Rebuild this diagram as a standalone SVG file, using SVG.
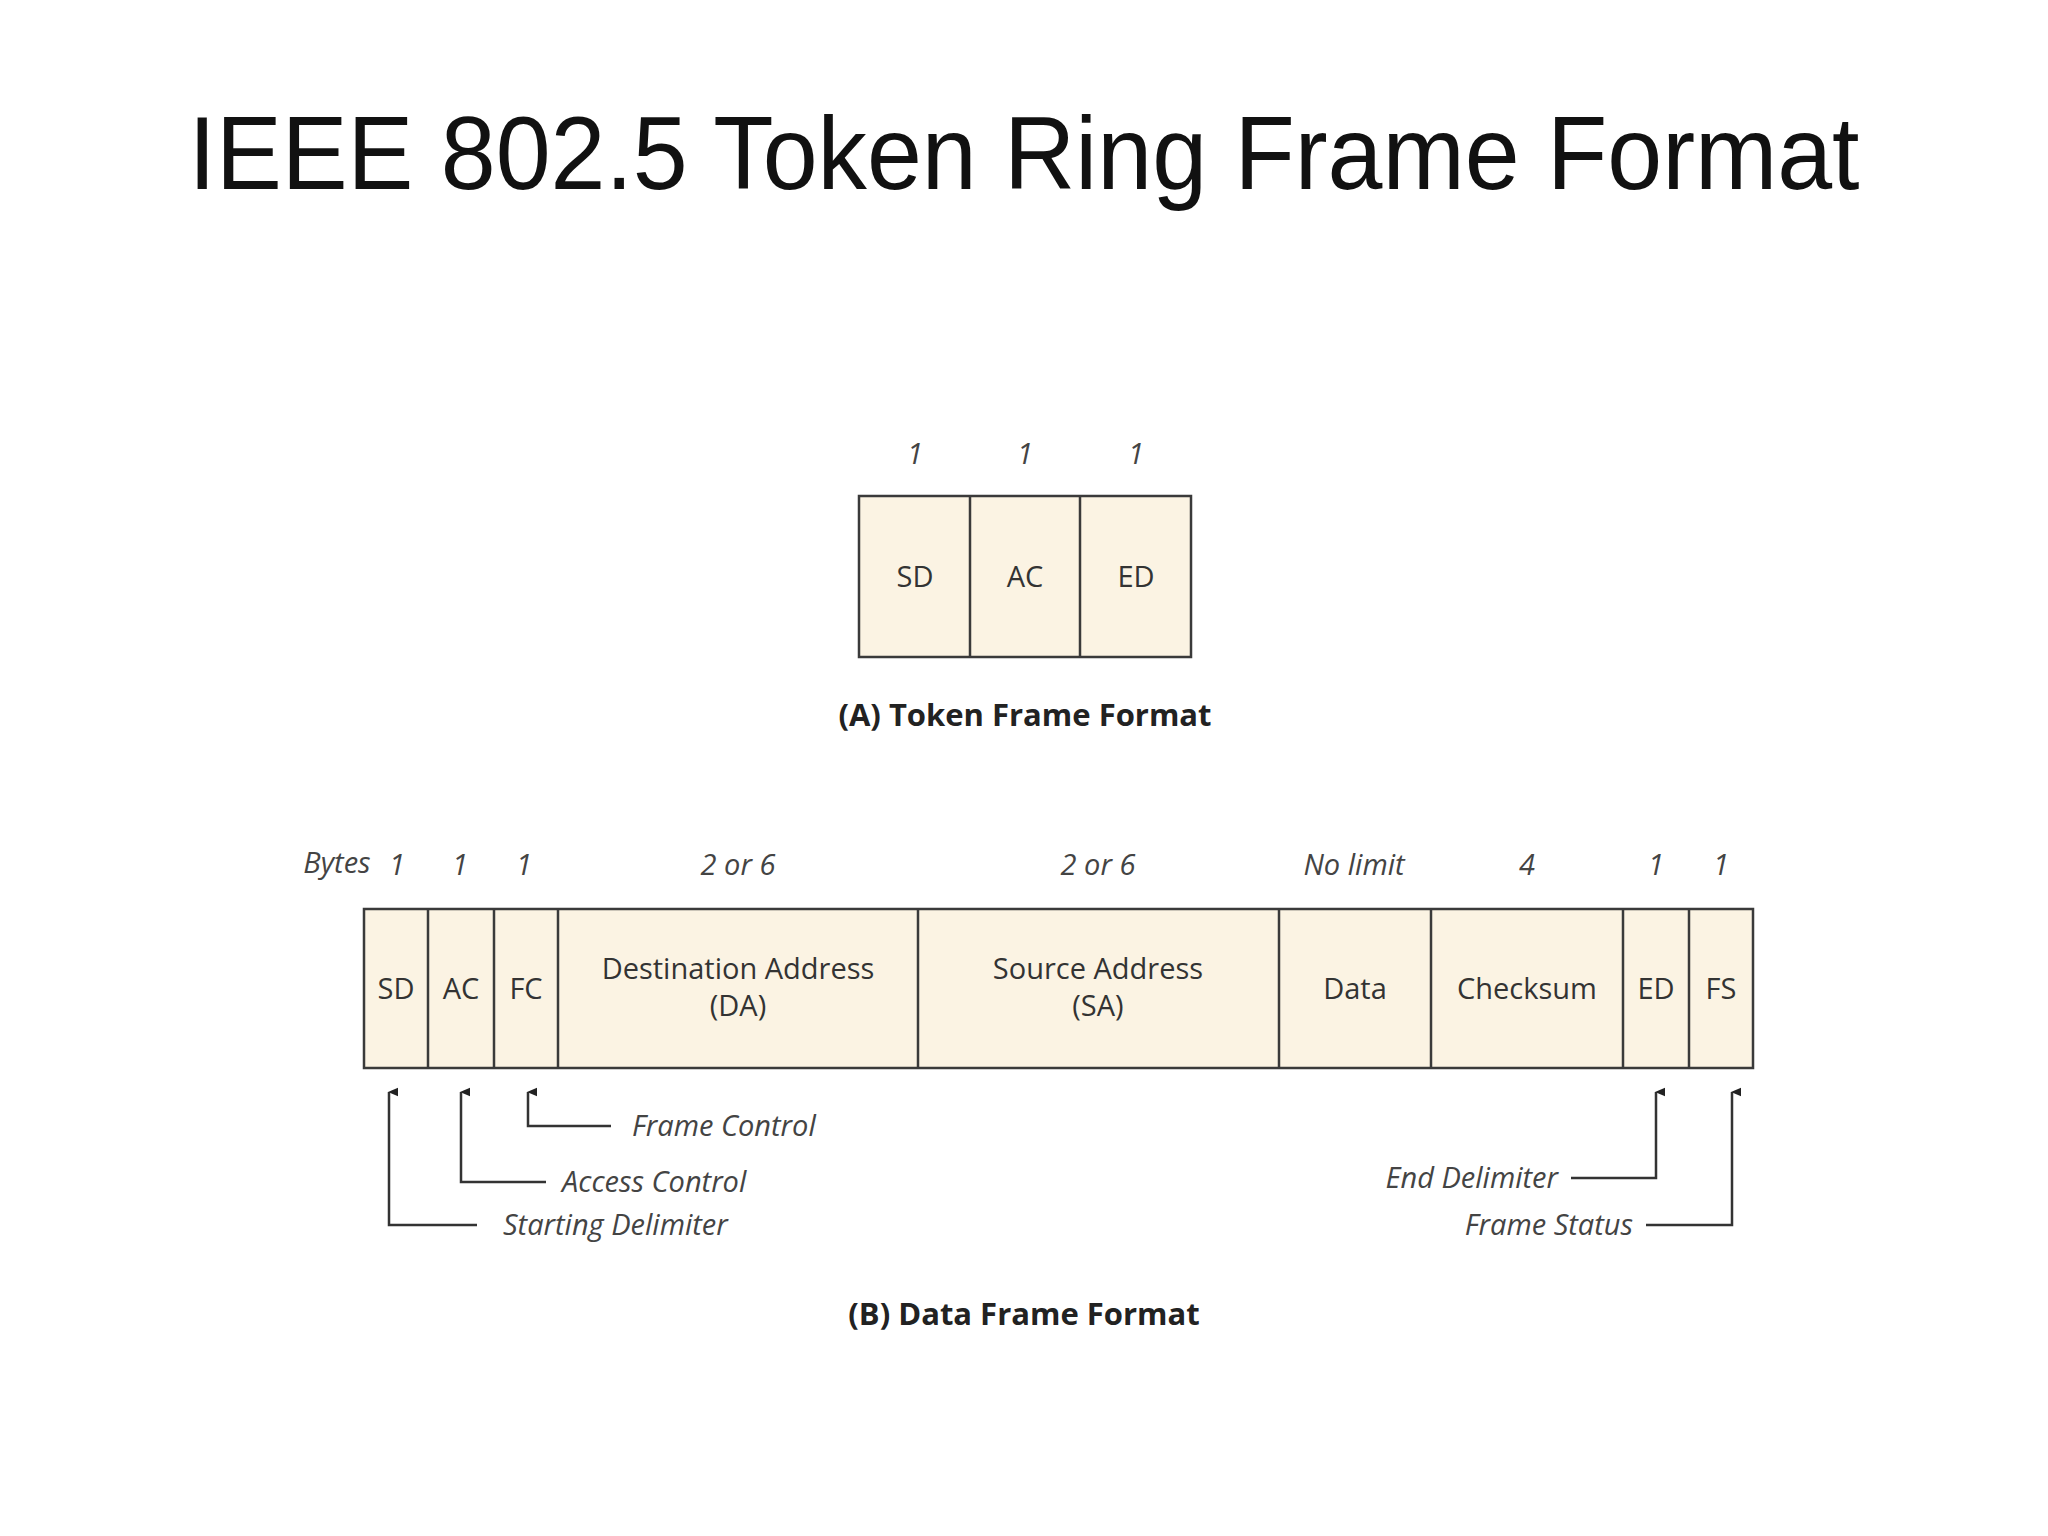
<svg xmlns="http://www.w3.org/2000/svg" width="2048" height="1536" viewBox="0 0 2048 1536">
<defs>
<style>
.box{fill:#fbf3e3;stroke:#3a3a3a;stroke-width:2.5}
.dv{stroke:#3a3a3a;stroke-width:2.5}
.lb{font-family:"Open Sans","DejaVu Sans",sans-serif;font-size:29px;fill:#333;text-anchor:middle}
.num{font-family:"Open Sans","DejaVu Sans",sans-serif;font-size:29px;font-style:italic;fill:#444;text-anchor:middle}
.it{font-family:"Open Sans","DejaVu Sans",sans-serif;font-size:29px;font-style:italic;fill:#444}
.cap{font-family:"Open Sans","DejaVu Sans",sans-serif;font-size:31px;font-weight:bold;fill:#222;text-anchor:middle}
.ln{fill:none;stroke:#333;stroke-width:2.5}
</style>
<marker id="ah" markerWidth="10" markerHeight="10" refX="5" refY="1" orient="auto-start-reverse" markerUnits="userSpaceOnUse" viewBox="0 0 10 10">
<path d="M0,12 L5,0 L10,12 Z" fill="#222"/>
</marker>
</defs>
<rect width="2048" height="1536" fill="#fff"/>
<text x="1024" y="189" font-family="'Liberation Sans',sans-serif" font-size="104" text-anchor="middle" textLength="1671" lengthAdjust="spacingAndGlyphs" fill="#111">IEEE 802.5 Token Ring Frame Format</text>

<g id="token">
<rect class="box" x="859" y="496" width="332" height="161"/>
<line class="dv" x1="970" y1="496" x2="970" y2="657"/>
<line class="dv" x1="1080" y1="496" x2="1080" y2="657"/>
<text class="num" x="915" y="464">1</text>
<text class="num" x="1025" y="464">1</text>
<text class="num" x="1136" y="464">1</text>
<text class="lb" x="915" y="587">SD</text>
<text class="lb" x="1025" y="587">AC</text>
<text class="lb" x="1136" y="587">ED</text>
<text class="cap" x="1025" y="726">(A) Token Frame Format</text>
</g>

<g id="data">
<rect class="box" x="364" y="909" width="1389" height="159"/>
<line class="dv" x1="428" y1="909" x2="428" y2="1068"/>
<line class="dv" x1="494" y1="909" x2="494" y2="1068"/>
<line class="dv" x1="558" y1="909" x2="558" y2="1068"/>
<line class="dv" x1="918" y1="909" x2="918" y2="1068"/>
<line class="dv" x1="1279" y1="909" x2="1279" y2="1068"/>
<line class="dv" x1="1431" y1="909" x2="1431" y2="1068"/>
<line class="dv" x1="1623" y1="909" x2="1623" y2="1068"/>
<line class="dv" x1="1689" y1="909" x2="1689" y2="1068"/>
<text class="num" x="337" y="873">Bytes</text>
<text class="num" x="397" y="875">1</text>
<text class="num" x="460" y="875">1</text>
<text class="num" x="524" y="875">1</text>
<text class="num" x="738" y="875">2 or 6</text>
<text class="num" x="1098" y="875">2 or 6</text>
<text class="num" x="1354" y="875">No limit</text>
<text class="num" x="1527" y="875">4</text>
<text class="num" x="1656" y="875">1</text>
<text class="num" x="1721" y="875">1</text>
<text class="lb" x="396" y="999">SD</text>
<text class="lb" x="461" y="999">AC</text>
<text class="lb" x="526" y="999">FC</text>
<text class="lb" x="738" y="979">Destination Address</text>
<text class="lb" x="738" y="1016">(DA)</text>
<text class="lb" x="1098" y="979">Source Address</text>
<text class="lb" x="1098" y="1016">(SA)</text>
<text class="lb" x="1355" y="999">Data</text>
<text class="lb" x="1527" y="999">Checksum</text>
<text class="lb" x="1656" y="999">ED</text>
<text class="lb" x="1721" y="999">FS</text>
<text class="cap" x="1024" y="1325">(B) Data Frame Format</text>
</g>

<g id="connectors">
<path class="ln" d="M611,1126 H528 V1092" marker-end="url(#ah)"/>
<path class="ln" d="M546,1182 H461 V1092" marker-end="url(#ah)"/>
<path class="ln" d="M477,1225 H389 V1092" marker-end="url(#ah)"/>
<path class="ln" d="M1571,1178 H1656 V1092" marker-end="url(#ah)"/>
<path class="ln" d="M1646,1225 H1732 V1092" marker-end="url(#ah)"/>
</g>
<g id="labels">
<text class="it" x="632" y="1136">Frame Control</text>
<text class="it" x="562" y="1192">Access Control</text>
<text class="it" x="503" y="1235">Starting Delimiter</text>
<text class="it" x="1558" y="1188" text-anchor="end">End Delimiter</text>
<text class="it" x="1633" y="1235" text-anchor="end">Frame Status</text>
</g>
</svg>
